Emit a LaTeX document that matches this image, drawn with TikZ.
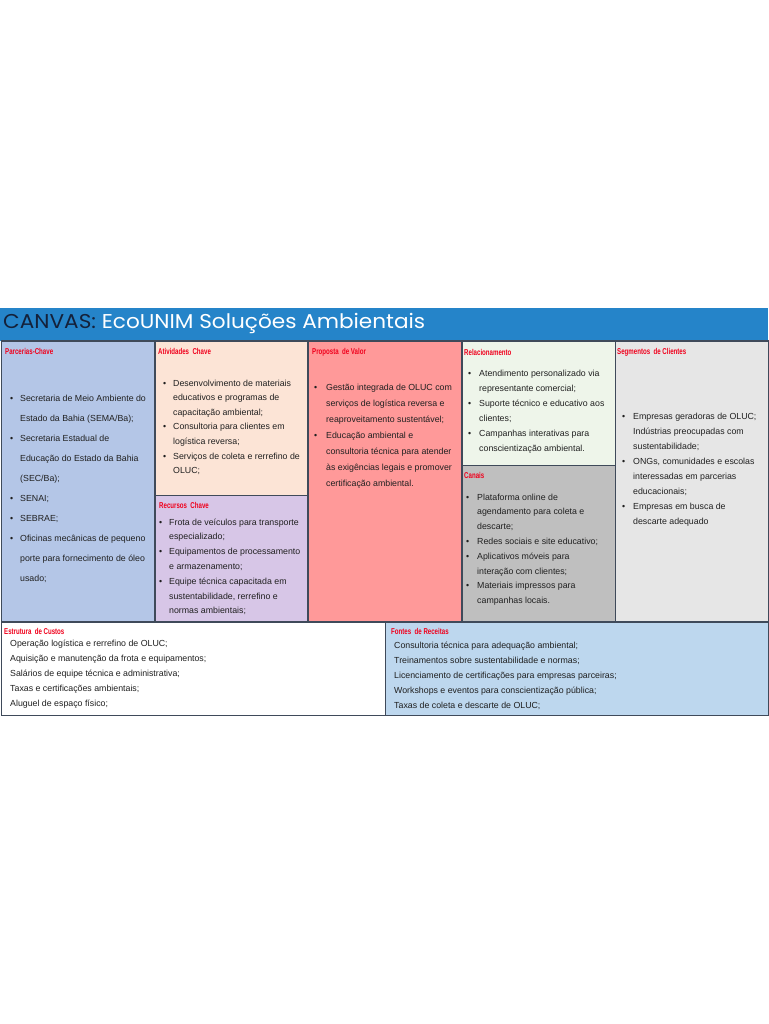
\documentclass[tikz,border=0pt]{standalone}
\usepackage{fontspec}
\usepackage{array}
\setmainfont{Liberation Sans}
\newfontfamily\headfont[FakeStretch=0.72]{Liberation Sans}
\newfontfamily\titlefont[FakeStretch=1.08]{Poppins}
\definecolor{titleblue}{HTML}{2584C9}
\definecolor{titledark}{HTML}{14213A}
\definecolor{cellborder}{HTML}{3F4A5A}
\definecolor{headred}{HTML}{F0001C}
\definecolor{bodytxt}{HTML}{202020}
\definecolor{cparc}{HTML}{B4C6E7}
\definecolor{cativ}{HTML}{FCE4D6}
\definecolor{crecu}{HTML}{D7C6E7}
\definecolor{cprop}{HTML}{FF9999}
\definecolor{crela}{HTML}{EEF5EA}
\definecolor{ccana}{HTML}{BFBFBF}
\definecolor{csegm}{HTML}{E6E6E6}
\definecolor{cestr}{HTML}{FFFFFF}
\definecolor{cfont}{HTML}{BDD7EE}
\newcommand{\bl}{\textbullet}
\newcommand{\bodysize}[1]{\fontsize{8.8}{#1}\selectfont}
\begin{document}
\begin{tikzpicture}[x=1pt,y=-1pt,
  cell/.style={draw=cellborder, line width=1.5pt},
  head/.style={anchor=west, inner sep=0pt, text=headred, font=\headfont\bfseries\fontsize{8.5}{9}\selectfont},
  body/.style={anchor=base west, inner sep=0pt, text=bodytxt, align=left},
]
\useasboundingbox (0,0) rectangle (768,1024);
\fill[white] (0,0) rectangle (768,1024);
% title bar
\fill[titleblue] (0,308) rectangle (768,341);
\node[anchor=west, inner sep=0pt, font=\titlefont\fontsize{20}{22}\selectfont] (title) at (3,323.5)
  {\textcolor{titledark}{CANVAS:} \textcolor{white}{EcoUNIM Soluções Ambientais}};
% cells
\filldraw[cell, fill=cparc] (1.5,341) rectangle (155,622);
\filldraw[cell, fill=cativ] (155,341) rectangle (308,495.5);
\filldraw[cell, fill=crecu] (155,495.5) rectangle (308,622);
\filldraw[cell, fill=cprop] (308,341) rectangle (462,622);
\filldraw[cell, fill=crela] (462,341) rectangle (615.5,465.5);
\filldraw[cell, fill=ccana] (462,465.5) rectangle (615.5,622);
\filldraw[cell, fill=csegm] (615.5,341) rectangle (769,622);
\filldraw[cell, fill=cestr] (1.5,622) rectangle (385.5,715.5);
\filldraw[cell, fill=cfont] (385.5,622) rectangle (769,715.5);
% headings
\node[head] (hparc) at (5,351) {Parcerias-Chave};
\node[head] (hativ) at (158,351) {Atividades\ \ Chave};
\node[head] (hrecu) at (159,505) {Recursos\ \ Chave};
\node[head] (hprop) at (312,352) {Proposta\ \ de Valor};
\node[head] (hrela) at (464,352) {Relacionamento};
\node[head] (hcana) at (464,475) {Canais};
\node[head] (hsegm) at (617,352) {Segmentos\ \ de Clientes};
\node[head] (hestr) at (4,631) {Estrutura\ \ de Custos};
\node[head] (hfont) at (391,631) {Fontes\ \ de Receitas};
% bodies
\node[body] (bparc) at (10,401) {\bodysize{20}%
\begin{tabular}[t]{@{}wl{10pt}@{}l@{}}
\bl & Secretaria de Meio Ambiente do\\
 & Estado da Bahia (SEMA/Ba);\\
\bl & Secretaria Estadual de\\
 & Educação do Estado da Bahia\\
 & (SEC/Ba);\\
\bl & SENAI;\\
\bl & SEBRAE;\\
\bl & Oficinas mecânicas de pequeno\\
 & porte para fornecimento de óleo\\
 & usado;
\end{tabular}};
\node[body] (bativ) at (163,386) {\bodysize{14.6}%
\begin{tabular}[t]{@{}wl{10pt}@{}l@{}}
\bl & Desenvolvimento de materiais\\
 & educativos e programas de\\
 & capacitação ambiental;\\
\bl & Consultoria para clientes em\\
 & logística reversa;\\
\bl & Serviços de coleta e rerrefino de\\
 & OLUC;
\end{tabular}};
\node[body] (brecu) at (159,525) {\bodysize{14.8}%
\begin{tabular}[t]{@{}wl{10pt}@{}l@{}}
\bl & Frota de veículos para transporte\\
 & especializado;\\
\bl & Equipamentos de processamento\\
 & e armazenamento;\\
\bl & Equipe técnica capacitada em\\
 & sustentabilidade, rerrefino e\\
 & normas ambientais;
\end{tabular}};
\node[body] (bprop) at (314,390) {\bodysize{16}%
\begin{tabular}[t]{@{}wl{12pt}@{}l@{}}
\bl & Gestão integrada de OLUC com\\
 & serviços de logística reversa e\\
 & reaproveitamento sustentável;\\
\bl & Educação ambiental e\\
 & consultoria técnica para atender\\
 & às exigências legais e promover\\
 & certificação ambiental.
\end{tabular}};
\node[body] (brela) at (468,376) {\bodysize{15}%
\begin{tabular}[t]{@{}wl{11pt}@{}l@{}}
\bl & Atendimento personalizado via\\
 & representante comercial;\\
\bl & Suporte técnico e educativo aos\\
 & clientes;\\
\bl & Campanhas interativas para\\
 & conscientização ambiental.
\end{tabular}};
\node[body] (bcana) at (466,500) {\bodysize{14.8}%
\begin{tabular}[t]{@{}wl{11pt}@{}l@{}}
\bl & Plataforma online de\\
 & agendamento para coleta e\\
 & descarte;\\
\bl & Redes sociais e site educativo;\\
\bl & Aplicativos móveis para\\
 & interação com clientes;\\
\bl & Materiais impressos para\\
 & campanhas locais.
\end{tabular}};
\node[body] (bsegm) at (622,419) {\bodysize{15}%
\begin{tabular}[t]{@{}wl{11pt}@{}l@{}}
\bl & Empresas geradoras de OLUC;\\
 & Indústrias preocupadas com\\
 & sustentabilidade;\\
\bl & ONGs, comunidades e escolas\\
 & interessadas em parcerias\\
 & educacionais;\\
\bl & Empresas em busca de\\
 & descarte adequado
\end{tabular}};
\node[body] (bestr) at (10,646) {\bodysize{15}%
\begin{tabular}[t]{@{}l@{}}
Operação logística e rerrefino de OLUC;\\
Aquisição e manutenção da frota e equipamentos;\\
Salários de equipe técnica e administrativa;\\
Taxas e certificações ambientais;\\
Aluguel de espaço físico;
\end{tabular}};
\node[body] (bfont) at (394,648) {\bodysize{15}%
\begin{tabular}[t]{@{}l@{}}
Consultoria técnica para adequação ambiental;\\
Treinamentos sobre sustentabilidade e normas;\\
Licenciamento de certificações para empresas parceiras;\\
Workshops e eventos para conscientização pública;\\
Taxas de coleta e descarte de OLUC;
\end{tabular}};
\end{tikzpicture}
\end{document}
